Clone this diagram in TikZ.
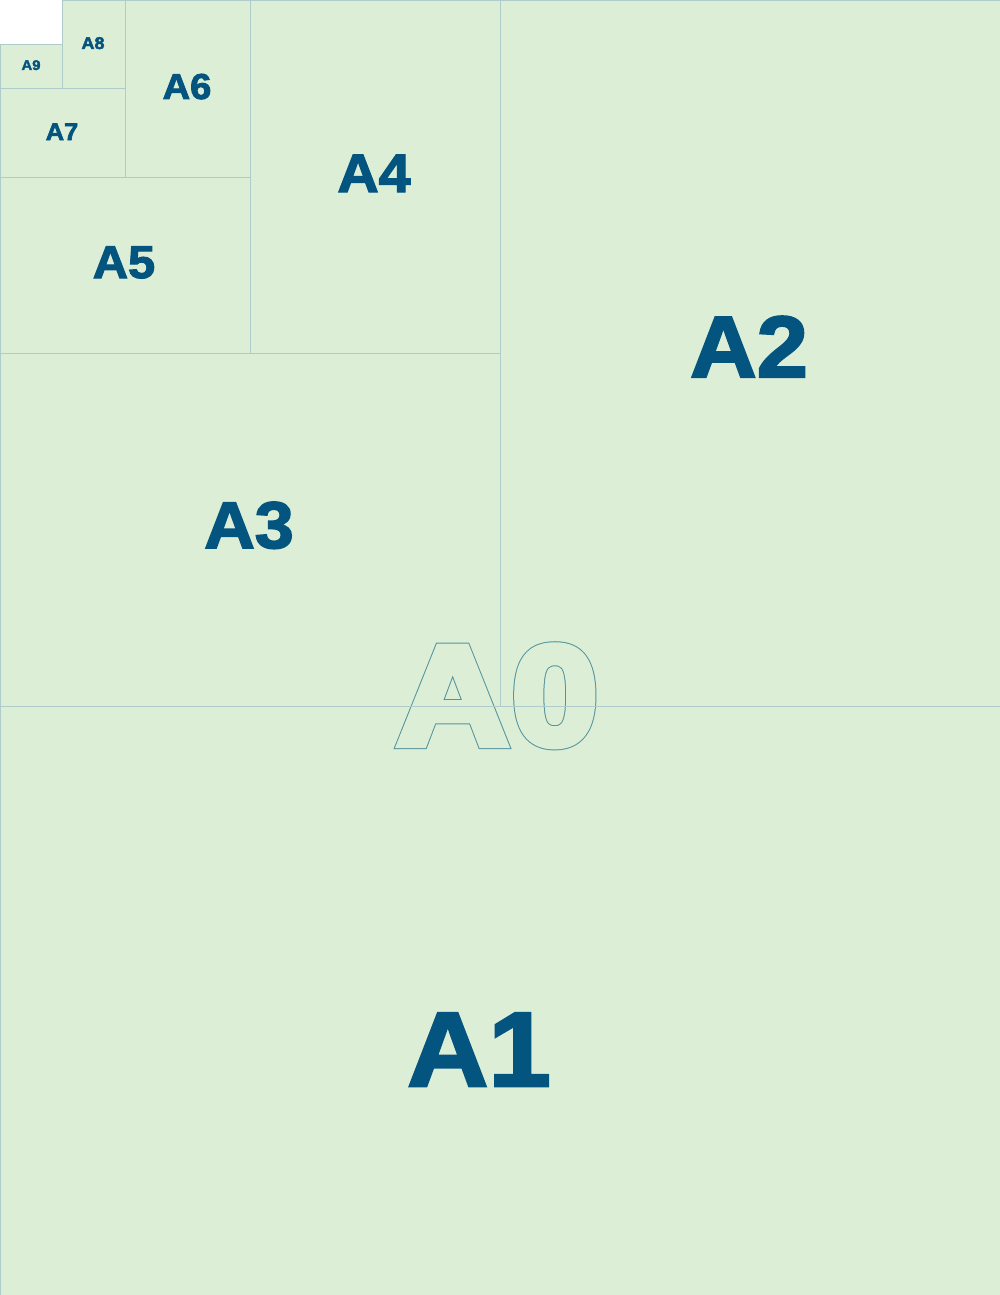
\documentclass[tikz,border=0pt]{standalone}
\usepackage{fontspec}
\setmainfont{Liberation Sans}[FakeStretch=1.06,BoldFeatures={FakeBold=2.5}]
\newfontfamily\outlinefont{Liberation Sans}[FakeStretch=1.1]
\definecolor{paper}{HTML}{DCEED6}
\definecolor{rulec}{HTML}{AFCBCB}
\definecolor{ink}{HTML}{03547F}
\newcommand{\zeroouter}{\special{pdf:literal direct 0.33 0.58 0.62 RG 10 w 0 j 10 M 2 Tr}}
\newcommand{\zeroinner}{\special{pdf:literal direct 0.863 0.933 0.839 RG 8 w 0 j 10 M 2 Tr}}
\newcommand{\zeroreset}{\special{pdf:literal direct 0 Tr}}
\begin{document}
\begin{tikzpicture}[x=1pt,y=-1pt,
  sheetfill/.style={fill=paper},
  sheetedge/.style={draw=rulec,line width=0.9pt},
  outlbl/.style={inner sep=0pt,anchor=base,text=paper,font=\outlinefont\bfseries\fontsize{140}{140}\selectfont},
  lbl/.style={inner sep=0pt,anchor=base,text=ink,font=\bfseries\fontsize{#1}{#1}\selectfont}]
\useasboundingbox (0,0) rectangle (1000,1295);
\fill[white] (0,0) rectangle (1000,1295);
\begin{scope}
\clip (0,0) rectangle (1000,1295);
\path[sheetfill] (0,706) rectangle (1000,1300);
\path[sheetfill] (500,0) rectangle (1000,706);
\path[sheetfill] (0,0) rectangle (500,706);
\fill[white] (0,0) rectangle (62,44);
\node[outlbl] (a0o) at (497.5,744) {\zeroouter A\kern4pt0\zeroreset};
\node[outlbl] (a0) at (497.5,744) {\zeroinner A\kern4pt0\zeroreset};
\path[sheetedge] (0,706) rectangle (1000,1300);
\path[sheetedge] (500,0) rectangle (1000,706);
\path[sheetedge] (0,353) rectangle (500,706);
\path[sheetedge] (250,0) rectangle (500,353);
\path[sheetedge] (0,177) rectangle (250,353);
\path[sheetedge] (125,0) rectangle (250,177);
\path[sheetedge] (0,88) rectangle (125,177);
\path[sheetedge] (62,0) rectangle (125,88);
\path[sheetedge] (0,44) rectangle (62,88);
\end{scope}
\node[lbl=106] (a1) at (479,1086) {A1};
\node[lbl=87] (a2) at (749,377) {A2};
\node[lbl=66] (a3) at (249,548) {A3};
\node[lbl=54] (a4) at (374,192) {A4};
\node[lbl=46] (a5) at (124,278) {A5};
\node[lbl=36] (a6) at (187,99) {A6};
\node[lbl=24] (a7) at (62,140) {A7};
\node[lbl=17] (a8) at (93,49) {A8};
\node[lbl=14] (a9) at (31,70) {A9};
\end{tikzpicture}
\end{document}
